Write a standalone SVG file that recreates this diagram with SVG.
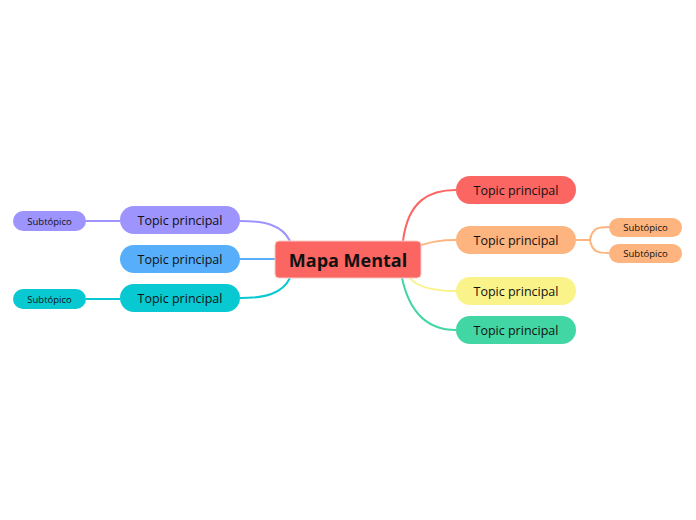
<svg xmlns="http://www.w3.org/2000/svg" width="696" height="520" viewBox="0 0 696 520">
<style>
text{font-family:"Open Sans","Noto Sans",sans-serif;text-anchor:middle;dominant-baseline:central;fill:#111}
.t{font-size:12.5px}.s{font-size:9.5px}
.c path{fill:none;stroke-width:2}
</style>
<rect width="696" height="520" fill="#fff"/>
<g class="c">
<path d="M403,241 C408,200 430,190 456,190" stroke="#fc6662"/>
<path d="M421,245 C432,242 440,240 456,240" stroke="#fdb47e"/>
<path d="M410,278 C418,288 435,291 456,291" stroke="#f9f38a"/>
<path d="M402,278 C410,315 430,330 456,330" stroke="#42d6a4"/>
<path d="M576,240 L590,240 C592,227 600,227 609,227 M590,240 C592,253 600,253 609,253" stroke="#fdb47e" stroke-width="1.5"/>
<path d="M290,241 C282,225 265,221 240,221" stroke="#9d94fd"/>
<path d="M275,259 L240,259" stroke="#57aefa"/>
<path d="M290,278 C282,294 265,298 240,298" stroke="#08c9d1"/>
<path d="M86,221 L120,221" stroke="#9d94fd" stroke-width="1.5"/>
<path d="M86,299 L120,299" stroke="#08c9d1" stroke-width="1.5"/>
</g>
<g id="center"><rect x="275" y="241" width="146" height="37" rx="4" fill="#fc6662" stroke="#f7c7c5"/><text x="348" y="259.5" font-size="18" font-weight="bold">Mapa Mental</text></g>
<g id="r1"><rect x="456" y="176" width="120" height="28" rx="14" fill="#fc6662"/><text class="t" x="516" y="190">Topic principal</text></g>
<g id="r2"><rect x="456" y="226" width="120" height="28" rx="14" fill="#fdb47e"/><text class="t" x="516" y="240">Topic principal</text></g>
<g id="r3"><rect x="456" y="277" width="120" height="28" rx="14" fill="#f9f38a"/><text class="t" x="516" y="291">Topic principal</text></g>
<g id="r4"><rect x="456" y="316" width="120" height="28" rx="14" fill="#42d6a4"/><text class="t" x="516" y="330">Topic principal</text></g>
<g id="rs1"><rect x="609" y="218" width="73" height="19" rx="9.5" fill="#fdb47e"/><text class="s" x="645.5" y="227.5">Subtópico</text></g>
<g id="rs2"><rect x="609" y="244" width="73" height="19" rx="9.5" fill="#fdb47e"/><text class="s" x="645.5" y="253.5">Subtópico</text></g>
<g id="l1"><rect x="120" y="206" width="120" height="28" rx="14" fill="#9d94fd"/><text class="t" x="180" y="220">Topic principal</text></g>
<g id="l2"><rect x="120" y="245" width="120" height="28" rx="14" fill="#57aefa"/><text class="t" x="180" y="259">Topic principal</text></g>
<g id="l3"><rect x="120" y="284" width="120" height="28" rx="14" fill="#08c9d1"/><text class="t" x="180" y="298">Topic principal</text></g>
<g id="ls1"><rect x="13" y="211" width="73" height="20" rx="10" fill="#9d94fd"/><text class="s" x="49.5" y="221">Subtópico</text></g>
<g id="ls2"><rect x="13" y="289" width="73" height="20" rx="10" fill="#08c9d1"/><text class="s" x="49.5" y="299">Subtópico</text></g>
</svg>
